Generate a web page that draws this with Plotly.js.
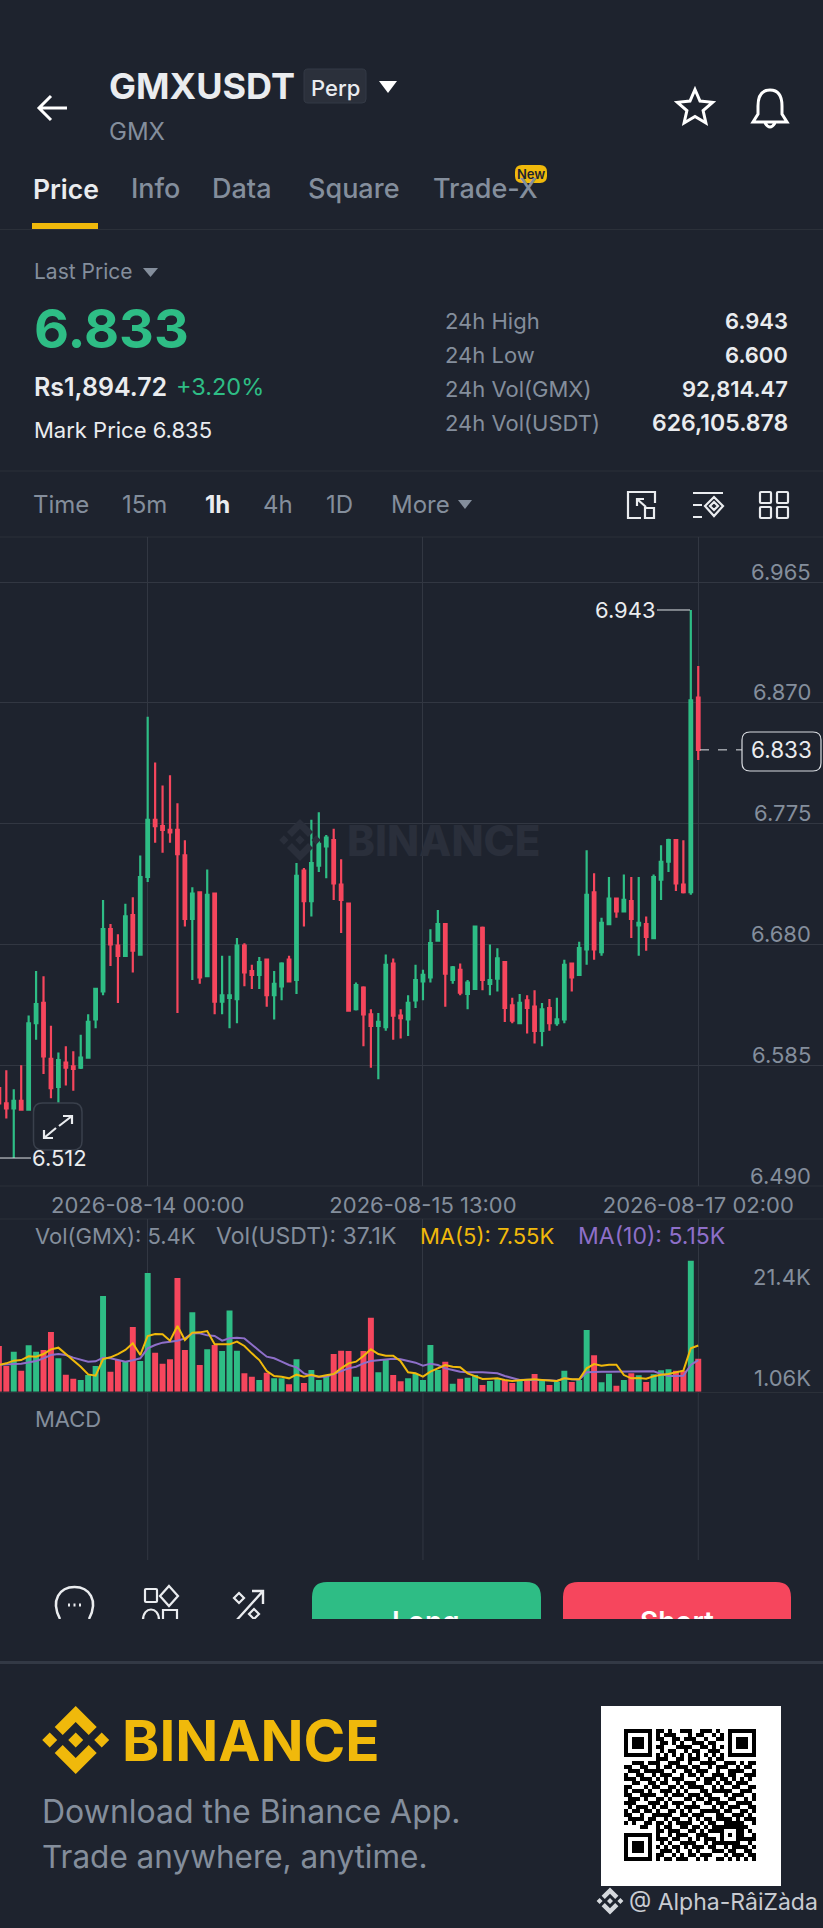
<!DOCTYPE html>
<html><head><meta charset="utf-8">
<script src="https://cdn.plot.ly/plotly-3.0.1.min.js"></script>
<style>
html,body{margin:0;padding:0;background:#1e232e;width:823px;height:1928px;overflow:hidden}
#chart{position:absolute;left:0;top:0;width:823px;height:1928px}
#clip{position:absolute;left:0;top:1619px;width:823px;height:40px;background:#1e232e}
</style></head><body>
<div id="chart"></div><div id="clip"></div>
<script>
// ---------- data ----------
var firstHourUTC = Date.UTC(2026,7,13,4);
var openP = [6.567,6.555,6.551,6.557,6.550,6.618,6.634,6.590,6.568,6.587,
6.584,6.583,6.591,6.621,6.643,6.692,6.679,6.671,6.703,6.672,
6.733,6.778,6.773,6.770,6.770,6.750,6.700,6.721,6.655,6.720,
6.635,6.638,6.637,6.679,6.659,6.656,6.668,6.640,6.647,6.668,
6.652,6.738,6.714,6.742,6.757,6.762,6.727,6.712,6.629,6.646,
6.625,6.616,6.615,6.665,6.624,6.621,6.636,6.651,6.654,6.683,
6.696,6.652,6.660,6.641,6.645,6.693,6.649,6.653,6.666,6.632,
6.618,6.636,6.631,6.612,6.630,6.618,6.621,6.665,6.656,6.676,
6.721,6.674,6.696,6.716,6.706,6.714,6.695,6.696,6.685,6.731,
6.745,6.762,6.727,6.721,6.874];
var highP = [6.596,6.581,6.566,6.585,6.624,6.659,6.655,6.616,6.595,6.600,
6.596,6.609,6.625,6.645,6.715,6.696,6.688,6.712,6.717,6.750,
6.859,6.823,6.805,6.813,6.791,6.762,6.725,6.721,6.739,6.720,
6.671,6.671,6.685,6.681,6.664,6.670,6.669,6.659,6.666,6.671,
6.744,6.740,6.778,6.784,6.766,6.771,6.747,6.712,6.650,6.647,
6.629,6.626,6.672,6.669,6.629,6.640,6.664,6.660,6.692,6.707,
6.696,6.663,6.665,6.652,6.694,6.694,6.680,6.677,6.666,6.638,
6.641,6.640,6.644,6.634,6.637,6.638,6.668,6.665,6.682,6.754,
6.736,6.701,6.733,6.716,6.735,6.733,6.733,6.702,6.735,6.758,
6.763,6.762,6.762,6.943,6.899];
var lowP = [6.513,6.543,6.512,6.550,6.550,6.605,6.578,6.559,6.551,6.569,
6.565,6.582,6.591,6.614,6.640,6.663,6.634,6.671,6.658,6.672,
6.729,6.760,6.752,6.760,6.626,6.694,6.652,6.649,6.655,6.625,
6.625,6.614,6.618,6.647,6.645,6.645,6.631,6.621,6.636,6.650,
6.641,6.694,6.702,6.737,6.732,6.715,6.689,6.627,6.628,6.600,
6.583,6.574,6.612,6.605,6.606,6.608,6.630,6.636,6.650,6.682,
6.631,6.649,6.640,6.629,6.645,6.644,6.640,6.643,6.619,6.618,
6.618,6.610,6.602,6.600,6.612,6.616,6.618,6.643,6.656,6.664,
6.668,6.671,6.696,6.701,6.706,6.685,6.671,6.675,6.685,6.715,
6.737,6.722,6.720,6.719,6.825];
var closeP = [6.555,6.551,6.557,6.550,6.618,6.633,6.592,6.567,6.589,6.583,
6.582,6.591,6.619,6.645,6.692,6.680,6.671,6.702,6.675,6.733,
6.778,6.773,6.770,6.768,6.751,6.700,6.720,6.654,6.719,6.635,
6.640,6.640,6.679,6.658,6.656,6.666,6.640,6.649,6.665,6.651,
6.734,6.714,6.744,6.759,6.764,6.728,6.715,6.628,6.648,6.625,
6.616,6.619,6.664,6.624,6.622,6.634,6.652,6.656,6.681,6.696,
6.657,6.662,6.642,6.650,6.694,6.652,6.652,6.669,6.630,6.620,
6.634,6.630,6.612,6.629,6.618,6.621,6.664,6.654,6.677,6.719,
6.676,6.697,6.716,6.706,6.715,6.700,6.697,6.686,6.733,6.745,
6.762,6.728,6.721,6.872,6.833];
var volumeK = [7.46,4.19,6.54,3.43,7.57,6.54,6.81,9.75,5.45,2.78,
2.12,1.91,2.72,4.19,15.63,3.27,5.17,4.90,10.57,5.01,
19.39,6.37,4.58,5.28,18.57,6.81,12.96,4.36,6.92,7.63,
6.64,13.24,6.70,3.00,2.45,1.91,3.10,2.18,2.18,1.20,
5.28,1.42,3.54,1.91,2.56,6.15,6.70,6.64,2.45,6.64,
12.09,3.16,5.28,2.72,1.69,2.18,2.89,1.91,7.63,3.54,
4.90,1.31,2.12,2.29,2.72,1.09,1.74,2.18,1.91,1.42,
1.74,1.74,2.89,1.85,1.09,1.63,3.43,1.58,1.91,10.08,
5.94,1.53,2.94,0.98,1.91,3.00,2.67,1.58,2.83,3.49,
3.65,3.43,3.43,21.40,5.40];
var ma5K = [4.36,4.63,5.07,5.17,5.77,5.72,6.15,6.92,7.19,6.15,
5.17,4.08,2.83,2.61,5.34,5.61,6.15,6.81,7.90,5.99,
9.10,9.42,9.37,8.33,10.73,8.44,9.64,9.69,9.91,7.73,
7.73,7.73,8.17,7.46,6.26,5.17,3.38,2.56,2.45,2.18,
2.78,2.45,2.78,2.45,2.67,2.89,3.81,4.63,4.90,5.83,
6.92,6.15,5.88,5.88,4.96,3.16,3.00,2.45,3.27,3.81,
4.36,4.08,3.98,3.00,2.56,2.07,2.12,2.18,1.91,1.74,
1.85,1.91,2.02,1.91,1.85,1.74,2.18,2.02,2.02,3.81,
4.52,4.25,4.41,4.41,2.72,2.18,2.23,2.12,2.51,2.78,
2.89,3.10,3.43,7.08,7.55];
var ma10K = [4.41,4.41,4.52,4.58,4.74,5.01,5.45,5.99,6.15,5.99,
5.56,5.28,4.90,4.96,5.56,5.45,5.17,4.90,5.12,5.45,
7.08,7.63,8.01,8.17,8.33,8.71,9.53,9.53,9.20,9.10,
8.33,8.71,8.82,8.71,7.63,6.70,5.72,5.45,4.90,4.36,
3.98,3.00,2.61,2.45,2.45,2.89,3.27,3.81,4.08,4.63,
5.01,5.17,5.34,5.39,5.28,5.07,4.74,4.25,4.58,4.36,
3.81,3.54,3.27,3.16,3.21,3.16,3.10,3.00,2.56,2.18,
1.91,1.96,1.96,1.85,1.85,1.74,2.18,2.02,1.96,3.16,
3.27,3.27,3.27,3.27,3.38,3.32,3.32,3.32,3.32,2.89,
2.56,2.56,2.61,4.36,5.15];
var dateTicks = ['2026-08-14 00:00','2026-08-15 13:00','2026-08-17 02:00'];
var priceTicks = [6.965,6.870,6.775,6.680,6.585,6.490];
var priceTickText = ['6.965','6.870','6.775','6.680','6.585','6.490'];
var lastPrice = 6.833, highMark = 6.943, lowMark = 6.512;
var volTicks = ['21.4K','1.06K'], volTickVals = [21.4,1.06];
var statLabels = ['24h High','24h Low','24h Vol(GMX)','24h Vol(USDT)'];
var statValues = ['6.943','6.600','92,814.47','626,105.878'];
var tabs = ['Price','Info','Data','Square','Trade-X'];
var intervals = ['Time','15m','1h','4h','1D','More'];

// ---------- styling ----------
var BG='#1e232e', GREEN='#2ebd85', RED='#f6465d', YEL='#f0b90b', PUR='#8e6fc9',
    GRAY='#848e9c', WHITE='#eaecef', GRID='#323742', W=823, H=1928, FONT='Inter';
var times = openP.map(function(_,i){
  return new Date(firstHourUTC+i*3600000).toISOString().slice(0,16).replace('T',' ');});
var volColors = openP.map(function(o,i){return closeP[i]>=o?GREEN:RED;});

// ---------- helpers: pixel positions of the interface furniture ----------
function yp(y){return 1-y/H;}
function P(s){ // pixel path -> paper path
  var n=0; return s.replace(/-?\d+(\.\d+)?|[A-Za-z]/g,function(t){
    if(/[A-Za-z]/.test(t)){n=0;return t;}
    var v=parseFloat(t); var r=(n%2==0)?(v/W):(1-v/H); n++; return r.toFixed(6);});
}
var shapes=[], ann=[];
function S(path,o){o=o||{};shapes.push({type:'path',xref:'paper',yref:'paper',path:P(path),
  fillcolor:o.fill||'rgba(0,0,0,0)',line:{color:o.color||'rgba(0,0,0,0)',width:o.w||0},layer:o.layer||'above'});}
function RR(a,b,c,d,r){return 'M'+(a+r)+' '+b+' L'+(c-r)+' '+b+' Q'+c+' '+b+' '+c+' '+(b+r)+' L'+c+' '+(d-r)+' Q'+c+' '+d+' '+(c-r)+' '+d+
  ' L'+(a+r)+' '+d+' Q'+a+' '+d+' '+a+' '+(d-r)+' L'+a+' '+(b+r)+' Q'+a+' '+b+' '+(a+r)+' '+b+' Z';}
function T(t,x,y,size,color,anchor,weight){ann.push({text:t,xref:'paper',yref:'paper',x:(anchor&&anchor!='left'?x:x-1.5)/W,y:yp(y),showarrow:false,
  xanchor:anchor||'left',yanchor:'middle',borderpad:0,font:{family:FONT,size:size,color:color,weight:weight||400}});}
function HL(y,x0,x1,c,w){shapes.push({type:'line',xref:'paper',yref:'paper',x0:x0/W,x1:x1/W,y0:yp(y),y1:yp(y),line:{color:c,width:w||1},layer:'below'});}
function logo(cx,cy,k,fill,extra){
  function q(pts){return pts.map(function(p,i){return (i?'L':'M')+(cx+p[0]*k)+' '+(cy+p[1]*k);}).join(' ')+' Z';}
  var d=[q([[0,-7.5],[7.5,0],[0,7.5],[-7.5,0]]),q([[-26,-7.5],[-18.5,0],[-26,7.5],[-33.5,0]]),q([[26,-7.5],[33.5,0],[26,7.5],[18.5,0]]),
    q([[0,-34],[21,-13],[13,-5],[0,-18],[-13,-5],[-21,-13]]),q([[0,34],[21,13],[13,5],[0,18],[-13,5],[-21,13]])].join(' ');
  S(d,{fill:fill});
}

// header
S('M67 108 L40 108 M51 96 L39 108 L51 120',{color:'#fff',w:3});
T('GMXUSDT',109,86,36,WHITE,'left',700);
S(RR(304,69,366,103,4),{fill:'#2b303b',color:'#343a46',w:1});
T('Perp',335,88,22,WHITE,'center',500);
S('M379 81 L397 81 L388 93 Z',{fill:'#fff'});
T('GMX',109,132,24,GRAY);
(function(){var c=[695,108],R=18.5,r=8.5,d='';for(var i=0;i<10;i++){var a=-Math.PI/2+i*Math.PI/5,q=i%2?r:R;
  d+=(i?'L':'M')+(c[0]+q*Math.cos(a)).toFixed(1)+' '+(c[1]+q*Math.sin(a)).toFixed(1)+' ';}S(d+'Z',{color:'#fff',w:3});})();
S('M770 90 C760 90 758 98 758 106 L758 114 L753 122 L787 122 L782 114 L782 106 C782 98 780 90 770 90 Z M765 123 Q770 131 775 123',{color:'#fff',w:3});

// tabs
var tabX=[33,131,213,308,434];
tabs.forEach(function(t,i){T(t,tabX[i],189,i==0?26.5:27,i==0?WHITE:GRAY,'left',i==0?600:500);});
S(RR(515,165,547,183,7),{fill:YEL});
T('New',531,174,13,'#1e2330','center',600);
S('M32 223 L98 223 L98 229 L32 229 Z',{fill:YEL});
HL(229.5,0,W,'#2b3039',1);

// price block
T('Last Price',34,272,21,GRAY);
S('M143 268 L158 268 L150.5 277 Z',{fill:GRAY});
T(lastPrice.toFixed(3),34,328,54,GREEN,'left',700);
T('Rs1,894.72',34,387,25,WHITE,'left',600);
T('+3.20%',176,387,23.5,GREEN,'left',400);
T('Mark Price 6.835',34,430,22,WHITE,'left',400);
var statY=[321,355,389,423];
statLabels.forEach(function(t,i){T(t,445,statY[i],22,GRAY);T(statValues[i],789,statY[i],i==3?23:22,WHITE,'right',600);});
HL(471,0,W,'#2b3039',1);

// interval bar
var intX=[33,122,205,263,326,391];
intervals.forEach(function(t,i){T(t,intX[i],505,24,i==2?WHITE:GRAY,'left',i==2?700:400);});
S('M458 500 L472 500 L465 509 Z',{fill:GRAY});
S('M655 503 L655 492 L628 492 L628 518 L641 518 M637 499 L646 507 M637 506 L637 499 L644 499',{color:WHITE,w:2.2});
S('M645 508 L654 508 L654 518 L645 518 Z',{color:WHITE,w:2.2});
S('M693 493 L723 493 M693 505 L702 505 M693 517 L702 517 M714 497 L723 506 L714 516 L705 506 Z M714 502 L718 506 L714 510 L710 506 Z',{color:WHITE,w:2.2});
[[760,492],[777,492],[760,507],[777,507]].forEach(function(p){S(RR(p[0],p[1],p[0]+11,p[1]+11,1),{color:WHITE,w:2.2});});
HL(537,0,W,'#2b3039',1);

// watermark
logo(300,840,0.62,'#2a2f3b');
ann.push({text:'BINANCE',xref:'paper',yref:'paper',x:345/W,y:yp(840),showarrow:false,xanchor:'left',yanchor:'middle',
  font:{family:FONT,size:42,color:'#2a2f3b',weight:800}});

// chart furniture tied to values
function hline(v,x0,x1,dash,c){shapes.push({type:'line',xref:'paper',yref:'y',x0:x0/W,x1:x1/W,y0:v,y1:v,line:{color:c||'#dfe2e6',width:1,dash:dash||'solid'},layer:'above'});}
function vannot(t,x,v,size,anchor,c,ys){ann.push({text:t,xref:'paper',yref:'y',x:x/W,y:v,yshift:ys||0,showarrow:false,xanchor:anchor,yanchor:'middle',borderpad:0,
  font:{family:FONT,size:size,color:c||WHITE}});}
priceTicks.forEach(function(v,i){vannot(priceTickText[i],812,v,22,'right',GRAY,10.5);});
hline(highMark,657,690); vannot(highMark.toFixed(3),657,highMark,22,'right');
hline(lowMark,0,31); vannot(lowMark.toFixed(3),30.5,lowMark,22,'left');
hline(lastPrice,700,742,'dash');
S(RR(742,732,821,771,8),{color:'#d8dbe0',w:1.2,fill:BG});
vannot(lastPrice.toFixed(3),781.5,lastPrice,22.5,'center');
// expand button
S(RR(33.5,1103,82,1150,9),{color:'#3a404c',w:1.5,fill:BG});
S('M59 1126 L72 1116 M63 1116 L72 1116 L72 1124 M56 1128 L44 1138 M44 1130 L44 1138 L53 1138',{color:WHITE,w:2.2});

// labels of the lower panes
T('Vol(GMX): 5.4K',35,1236,22,GRAY);
T('Vol(USDT): 37.1K',216,1236,23,GRAY);
T('MA(5): 7.55K',420,1236,22,YEL);
T('MA(10): 5.15K',578,1236,23,PUR);
T('MACD',35,1419,22,GRAY);
HL(1186,0,W,'#2b3039',1);
HL(1219,0,W,'#2b3039',1);
volTicks.forEach(function(t,i){ann.push({text:t,xref:'paper',yref:'y2',x:813/W,y:volTickVals[i],yshift:i==0?-16:7,showarrow:false,xanchor:'right',yanchor:'middle',
  font:{family:FONT,size:22,color:GRAY}});});
dateTicks.forEach(function(d){shapes.push({type:'line',xref:'x',yref:'paper',x0:d,x1:d,y0:yp(1392),y1:yp(1560),line:{color:GRID,width:1},layer:'below'});});

// action bar
S('M60 1619 C50 1600 60 1587 74.5 1587 C89 1587 99 1600 89 1619',{color:WHITE,w:2.5});
S('M68 1605 L70 1605 M73.5 1605 L75.5 1605 M79 1605 L81 1605',{color:WHITE,w:3});
S(RR(145,1589,157,1602,1),{color:WHITE,w:2.2});
S('M169 1586 L178 1596 L169 1606 L160 1596 Z',{color:WHITE,w:2.2});
S('M143 1620 C143 1606 159 1606 159 1620',{color:WHITE,w:2.2});
S('M163 1622 L163 1610 L177 1610 L177 1622',{color:WHITE,w:2.2});
S('M235 1622 L263 1591 M252 1591 L263 1591 L263 1604',{color:WHITE,w:2.4});
S('M239 1593 L244 1598 L239 1603 L234 1598 Z M254 1609 L259 1614 L254 1619 L249 1614 Z',{color:WHITE,w:2.2});
S('M312 1630 L312 1597 Q312 1582 327 1582 L526 1582 Q541 1582 541 1597 L541 1630 Z',{fill:GREEN});
S('M563 1630 L563 1597 Q563 1582 578 1582 L776 1582 Q791 1582 791 1597 L791 1630 Z',{fill:RED});
T('Long',426,1622,28,'#ffffff','center',600);
T('Short',677,1622,28,'#ffffff','center',600);

// footer
shapes.push({type:'rect',xref:'paper',yref:'paper',x0:0,x1:1,y0:yp(1664),y1:yp(1661),fillcolor:'#333945',line:{width:0},layer:'above'});
logo(75.7,1740,1,YEL);
T('BINANCE',122,1740,56.5,YEL,'left',700);
T('Download the Binance App.',42,1811,32,GRAY);
T('Trade anywhere, anytime.',42,1856,31.5,GRAY);
shapes.push({type:'rect',xref:'paper',yref:'paper',x0:601/W,x1:781/W,y0:yp(1886),y1:yp(1706),fillcolor:'#fff',line:{width:0},layer:'above'});
var qrRows=[
"111111101101001110011101001111111",
"100000101011100010110010101000001",
"101110101100110111001001101011101",
"101110100110101001110110001011101",
"101110101100011110011010101011101",
"100000100101100101100111001000001",
"111111101010101010101010101111111",
"000000001110011011100101100000000",
"001110111001110010011110011101011",
"110011001011011101100101110010110",
"011101111100100110111001001111001",
"100110010111001011010011101100111",
"111011101010111000101110110101010",
"001100110110010111001101011011100",
"110001011001101011110010100110011",
"101110100111010100011011111001110",
"110011110010111011101100010111001",
"011101001101000110110111001100101",
"111000111010111001001101110011110",
"010111010110010111100010101110011",
"101101101001101010011111011001101",
"110010011111001101110001100111010",
"011110110010110010101101111010111",
"101001101101011110010110011111001",
"000011001011001101101011111111100",
"000000001101110011010111100011010",
"111111101001011100111000101011001",
"100000101110110010101110100011111",
"101110100101001111001011111110010",
"101110101010110101110110010111101",
"101110100111010010100011101100110",
"100000101100101011011100010111011",
"111111101011011100101001101010101"];
(function(){var d='',m=4;qrRows.forEach(function(r,y){for(var x=0;x<r.length;x++){if(r[x]=='1'){var a=624+x*m,b=1729+y*m;
  d+='M'+a+' '+b+' L'+(a+m)+' '+b+' L'+(a+m)+' '+(b+m)+' L'+a+' '+(b+m)+' Z ';}}});S(d,{fill:'#000'});})();
logo(610,1901,0.4,'#d5d8dd');
T('@ Alpha-RâiZàda',629,1902,23,'#c9ccd2');

var traces=[
 {type:'candlestick',x:times,open:openP,high:highP,low:lowP,close:closeP,xaxis:'x',yaxis:'y',whiskerwidth:0,hoverinfo:'skip',showlegend:false,
  increasing:{line:{color:GREEN,width:2.2},fillcolor:GREEN},decreasing:{line:{color:RED,width:2.2},fillcolor:RED}},
 {type:'bar',x:times,y:volumeK,xaxis:'x2',yaxis:'y2',marker:{color:volColors,line:{width:0}},hoverinfo:'skip',showlegend:false},
 {type:'scatter',mode:'lines',x:times,y:ma10K,xaxis:'x2',yaxis:'y2',line:{color:PUR,width:2},hoverinfo:'skip',showlegend:false},
 {type:'scatter',mode:'lines',x:times,y:ma5K,xaxis:'x2',yaxis:'y2',line:{color:YEL,width:2},hoverinfo:'skip',showlegend:false}
];
var xRange=['2026-08-13 04:09','2026-08-17 18:46'];
var layout={width:W,height:H,margin:{l:0,r:0,t:0,b:0},paper_bgcolor:BG,plot_bgcolor:BG,showlegend:false,hovermode:false,dragmode:false,
 boxgap:0.5,bargap:0.2,
 xaxis:{type:'date',domain:[0,1],range:xRange,anchor:'y',rangeslider:{visible:false},tickmode:'array',tickvals:dateTicks,ticktext:dateTicks,
   ticklabelstandoff:4,showgrid:true,gridcolor:GRID,gridwidth:1,zeroline:false,showline:false,ticks:'',tickfont:{family:FONT,size:22,color:GRAY}},
 xaxis2:{type:'date',domain:[0,1],matches:'x',anchor:'y2',tickmode:'array',tickvals:dateTicks,showticklabels:false,showgrid:true,gridcolor:GRID,gridwidth:1,
   showline:true,linecolor:'#2b3039',zeroline:false,ticks:''},
 yaxis:{domain:[yp(1186),yp(537)],range:[6.490,7.0004],anchor:'x',side:'right',tickmode:'array',tickvals:priceTicks,showticklabels:false,
   showgrid:true,gridcolor:GRID,gridwidth:1,zeroline:false,showline:false,ticks:''},
 yaxis2:{domain:[yp(1391.7),yp(1219)],range:[0,28.2],anchor:'x2',showgrid:false,zeroline:false,showticklabels:false,ticks:''},
 shapes:shapes,annotations:ann};
Plotly.newPlot('chart',traces,layout,{displayModeBar:false,staticPlot:true});
</script>
</body></html>
